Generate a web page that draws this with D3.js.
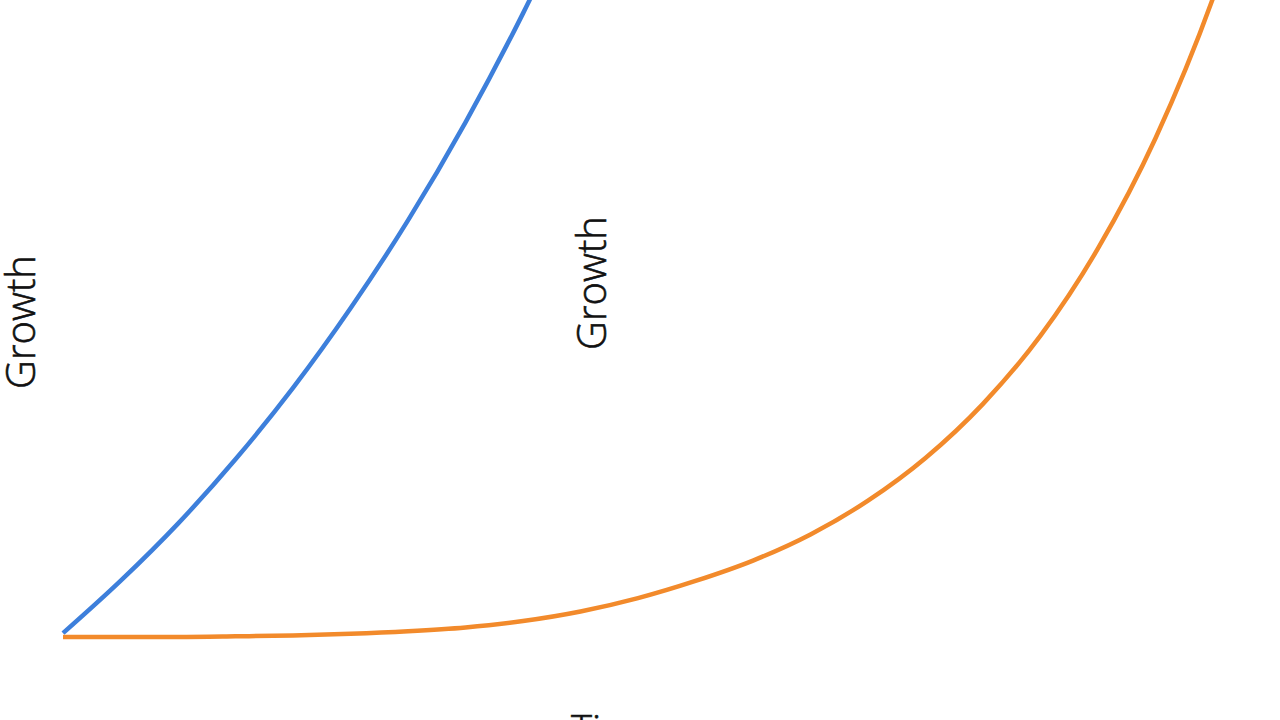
<!DOCTYPE html>
<html>
<head>
<meta charset="utf-8">
<script src="https://cdn.jsdelivr.net/npm/d3@7"></script>
<style>
  html, body { margin: 0; padding: 0; background: #fff; overflow: hidden; }
  svg { display: block; }
  .label { font-family: "Open Sans", sans-serif; font-size: 40px; font-weight: 300; fill: #111; stroke: #111; stroke-width: 0.6px; }
</style>
</head>
<body>
<div id="chart"></div>
<script>
// time units along x, growth units up
const timeA = [0, 0.5, 1, 1.5, 2, 2.5, 3, 3.5, 4, 4.5];
const growthA = [0.06, 0.88, 1.78, 2.79, 3.91, 5.16, 6.54, 8.08, 9.79, 11.69];

const timeB = [0, 0.5, 1, 1.5, 2, 2.5, 3, 3.5, 4, 4.5, 5, 5.5, 6, 6.5, 7, 7.5, 8, 8.5, 9, 9.5, 10, 10.5];
const growthB = [0, 0, 0, 0.01, 0.025, 0.05, 0.09, 0.15, 0.25, 0.40, 0.61, 0.88, 1.20, 1.61, 2.14, 2.81, 3.66, 4.73, 6.10, 7.83, 10.03, 12.83];

const yTitle = 'Growth';
const xTitle = 'Time';

var width = 1280, height = 720;

var svg = d3.select('#chart').append('svg')
  .attr('width', width)
  .attr('height', height);

var x = d3.scaleLinear().domain([0, 10]).range([63, 1213]);
var y = d3.scaleLinear().domain([0, 10]).range([637, 0]);

var line = d3.line()
  .x(d => x(d[0]))
  .y(d => y(d[1]))
  .curve(d3.curveMonotoneX);

var seriesA = timeA.map((t, i) => [t, growthA[i]]);
var seriesB = timeB.map((t, i) => [t, growthB[i]]);

svg.append('path')
  .datum(seriesA)
  .attr('d', line)
  .attr('fill', 'none')
  .attr('stroke', '#3d7fdb')
  .attr('stroke-width', 4.5);

svg.append('path')
  .datum(seriesB)
  .attr('d', line)
  .attr('fill', 'none')
  .attr('stroke', '#f28a2b')
  .attr('stroke-width', 4.5);

// axis titles, the way the screenshot leaves them
svg.append('text')
  .attr('class', 'label')
  .attr('transform', 'translate(35,322) rotate(-90)')
  .attr('text-anchor', 'middle')
  .text(yTitle);

svg.append('text')
  .attr('class', 'label')
  .attr('transform', 'translate(606,283) rotate(-90)')
  .attr('text-anchor', 'middle')
  .text(yTitle);

svg.append('text')
  .attr('class', 'label')
  .attr('x', 571)
  .attr('y', 744)
  .text(xTitle);
</script>
</body>
</html>
